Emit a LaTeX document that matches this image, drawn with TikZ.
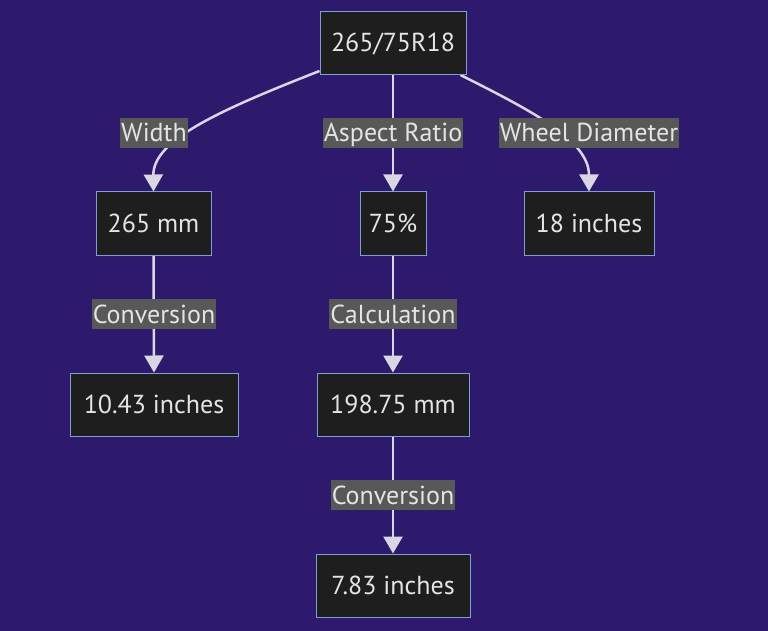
\documentclass[tikz,border=0pt]{standalone}
\usepackage{fontspec}
\setmainfont{PT Sans}
\usetikzlibrary{arrows.meta,backgrounds}
\definecolor{bgc}{RGB}{45,26,108}
\definecolor{nfill}{RGB}{30,30,30}
\definecolor{nborder}{RGB}{128,158,214}
\definecolor{lfill}{RGB}{88,88,88}
\definecolor{txtc}{RGB}{228,228,228}
\definecolor{edgec}{RGB}{218,214,230}
\tikzset{
  box/.style={rectangle,fill=nfill,draw=nborder,line width=1pt,text=txtc,
    minimum height=63pt,inner sep=0pt,text height=20pt,text depth=2pt,
    font=\fontsize{26}{30}\selectfont},
  lab/.style={rectangle,fill=lfill,text=txtc,inner xsep=1pt,inner ysep=0pt,
    minimum height=30pt,text height=20pt,text depth=2pt,
    font=\fontsize{26}{30}\selectfont},
  edge/.style={draw=edgec,line width=2.5pt,-{Triangle[length=17pt,width=19pt]}},
}
\begin{document}
\begin{tikzpicture}[x=1pt,y=-1pt]
\useasboundingbox (0,0) rectangle (768,631);
\node[box,minimum width=146pt] (top) at (393,43) {265/75R18};
\node[box,minimum width=115pt] (w1) at (153.5,223.5) {265 mm};
\node[box,minimum width=66pt] (ar) at (393,223.5) {75\%};
\node[box,minimum width=130pt] (wd) at (589,223.5) {18 inches};
\node[box,minimum width=168pt] (w2) at (154,404.5) {10.43 inches};
\node[box,minimum width=152pt] (cm) at (393,404.5) {198.75 mm};
\node[box,minimum width=154pt] (ci) at (393,585.5) {7.83 inches};
\node[lab] (lw) at (154,133) {Width};
\node[lab] (la) at (393,133) {Aspect Ratio};
\node[lab] (ld) at (589,133) {Wheel Diameter};
\node[lab] (lc1) at (154,314) {Conversion};
\node[lab] (lca) at (393,314) {Calculation};
\node[lab] (lc2) at (393,495) {Conversion};
\begin{scope}[on background layer]
\fill[bgc] (0,0) rectangle (768,631);
\draw[edge] ([yshift=4pt]top.south west) .. controls (220,110) and (153,140) .. (w1.north);
\draw[edge] (top.south) -- (ar.north);
\draw[edge] ([xshift=-6pt]top.south east) .. controls (530,110) and (589,140) .. (wd.north);
\draw[edge] (w1.south) -- (w2.north);
\draw[edge] (ar.south) -- (cm.north);
\draw[edge] (cm.south) -- (ci.north);
\end{scope}
\end{tikzpicture}
\end{document}
